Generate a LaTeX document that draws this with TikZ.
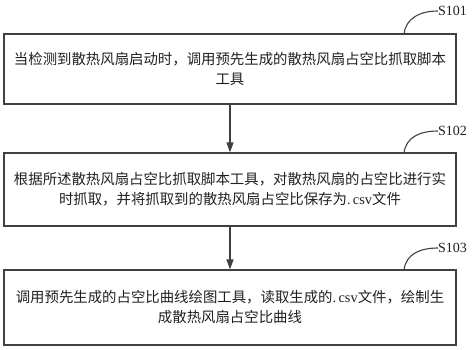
\documentclass[tikz,border=0pt]{standalone}
\usepackage{fontspec}
\setmainfont{Liberation Serif}
\newfontfamily\cjk{Noto Sans CJK SC}
\usetikzlibrary{arrows.meta}
\tikzset{
  stepbox/.style={draw=linegray, line width=1.2pt, rectangle, minimum width=452pt, inner sep=0pt,
    text width=442pt, align=center, text=textgray,
    font=\fontsize{14.4pt}{20pt}\selectfont\cjk},
  flow/.style={draw=linegray, line width=1.2pt, -{Triangle[length=10pt,width=7pt]}},
  lead/.style={draw=linegray, line width=1.1pt},
  steplabel/.style={anchor=west, inner sep=0pt, text=textgray, font=\fontsize{14pt}{16pt}\selectfont}
}
\definecolor{linegray}{HTML}{404040}
\definecolor{textgray}{HTML}{202020}
\begin{document}
\begin{tikzpicture}[x=1pt,y=-1pt]
\useasboundingbox (0,0) rectangle (474,349);
\node[stepbox, minimum height=70pt] (b1) at (230,69)
  {当检测到散热风扇启动时，调用预先生成的散热风扇占空比抓取脚本\\工具};
\node[stepbox, minimum height=73pt] (b2) at (230,189.5)
  {根据所述散热风扇占空比抓取脚本工具，对散热风扇的占空比进行实\\时抓取，并将抓取到的散热风扇占空比保存为{\rmfamily.\,csv}文件};
\node[stepbox, minimum height=75pt] (b3) at (230,307.5)
  {调用预先生成的占空比曲线绘图工具，读取生成的{\rmfamily.\,csv}文件，绘制生\\成散热风扇占空比曲线};
\draw[flow] (b1) -- (b2);
\draw[flow] (b2) -- (b3);
\node[steplabel] (s1) at (438,11) {S101};
\node[steplabel] (s2) at (438,131) {S102};
\node[steplabel] (s3) at (438,248) {S103};
\coordinate (c1) at (404,34);
\coordinate (c2) at (404,153);
\coordinate (c3) at (404,270);
\draw[lead] (c1) .. controls (406,18) and (420,11) .. (s1.west);
\draw[lead] (c2) .. controls (406,137) and (420,131) .. (s2.west);
\draw[lead] (c3) .. controls (406,254) and (420,248) .. (s3.west);
\end{tikzpicture}
\end{document}
